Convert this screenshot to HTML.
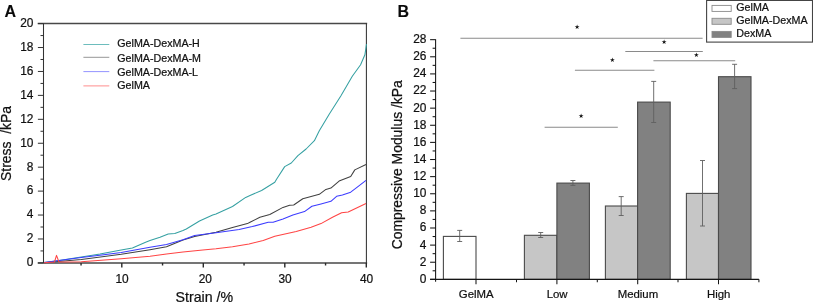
<!DOCTYPE html>
<html><head><meta charset="utf-8"><title>Figure</title>
<style>
html,body{margin:0;padding:0;background:#fff;}
body{width:813px;height:303px;overflow:hidden;}
svg{display:block;}
text{font-family:"Liberation Sans",Arial,sans-serif;fill:#111;stroke:#111;stroke-width:0.22px;}
.t11{font-size:11.9px;}
.tc{font-size:11.4px;}
.t105{font-size:10.7px;}
.t14{font-size:14.2px;}
.t14y{font-size:13.9px;}
.b16{font-size:16px;font-weight:bold;fill:#0a0a0a;stroke-width:0.1px;}
.axh{stroke:#484848;stroke-width:1.5;fill:none;stroke-linecap:square;}
.axv{stroke:#333;stroke-width:1.05;fill:none;}
.tkh{stroke:#333;stroke-width:1.0;fill:none;}
.tkv{stroke:#2a2a2a;stroke-width:1.4;fill:none;}
.bax{stroke:#151515;stroke-width:1.05;fill:none;}
.sig{stroke:#8a8a8a;stroke-width:1.1;fill:none;}
.eb{stroke:#606060;stroke-width:0.9;fill:none;}
.star{font-family:"DejaVu Sans","Liberation Sans",sans-serif;font-size:6.4px;fill:#111;stroke:none;}
</style></head><body>
<svg width="813" height="303" viewBox="0 0 813 303">
<rect x="0" y="0" width="813" height="303" fill="#ffffff"/>

<text class="b16" x="4.6" y="17">A</text>
<path class="axh" d="M38.5,23.6H366.4M38.5,262.9H366.4"/>
<path class="axv" d="M43.5,23.6V262.9M366.4,23.6V262.9"/>
<line class="tkh" x1="37.9" y1="262.90" x2="43.5" y2="262.90"/>
<text class="t11" text-anchor="end" x="33.4" y="266.25">0</text>
<line class="tkh" x1="40.5" y1="250.93" x2="43.5" y2="250.93"/>
<line class="tkh" x1="37.9" y1="238.97" x2="43.5" y2="238.97"/>
<text class="t11" text-anchor="end" x="33.4" y="242.32">2</text>
<line class="tkh" x1="40.5" y1="227.00" x2="43.5" y2="227.00"/>
<line class="tkh" x1="37.9" y1="215.04" x2="43.5" y2="215.04"/>
<text class="t11" text-anchor="end" x="33.4" y="218.39">4</text>
<line class="tkh" x1="40.5" y1="203.07" x2="43.5" y2="203.07"/>
<line class="tkh" x1="37.9" y1="191.11" x2="43.5" y2="191.11"/>
<text class="t11" text-anchor="end" x="33.4" y="194.46">6</text>
<line class="tkh" x1="40.5" y1="179.14" x2="43.5" y2="179.14"/>
<line class="tkh" x1="37.9" y1="167.18" x2="43.5" y2="167.18"/>
<text class="t11" text-anchor="end" x="33.4" y="170.53">8</text>
<line class="tkh" x1="40.5" y1="155.21" x2="43.5" y2="155.21"/>
<line class="tkh" x1="37.9" y1="143.25" x2="43.5" y2="143.25"/>
<text class="t11" text-anchor="end" x="33.4" y="146.60">10</text>
<line class="tkh" x1="40.5" y1="131.28" x2="43.5" y2="131.28"/>
<line class="tkh" x1="37.9" y1="119.32" x2="43.5" y2="119.32"/>
<text class="t11" text-anchor="end" x="33.4" y="122.67">12</text>
<line class="tkh" x1="40.5" y1="107.35" x2="43.5" y2="107.35"/>
<line class="tkh" x1="37.9" y1="95.39" x2="43.5" y2="95.39"/>
<text class="t11" text-anchor="end" x="33.4" y="98.74">14</text>
<line class="tkh" x1="40.5" y1="83.43" x2="43.5" y2="83.43"/>
<line class="tkh" x1="37.9" y1="71.46" x2="43.5" y2="71.46"/>
<text class="t11" text-anchor="end" x="33.4" y="74.81">16</text>
<line class="tkh" x1="40.5" y1="59.49" x2="43.5" y2="59.49"/>
<line class="tkh" x1="37.9" y1="47.53" x2="43.5" y2="47.53"/>
<text class="t11" text-anchor="end" x="33.4" y="50.88">18</text>
<line class="tkh" x1="40.5" y1="35.56" x2="43.5" y2="35.56"/>
<line class="tkh" x1="37.9" y1="23.60" x2="43.5" y2="23.60"/>
<text class="t11" text-anchor="end" x="33.4" y="26.95">20</text>
<line class="tkv" x1="81.05" y1="262.9" x2="81.05" y2="265.5"/>
<line class="tkv" x1="121.80" y1="262.9" x2="121.80" y2="267.5"/>
<text class="t11" text-anchor="middle" x="122.10" y="282.75">10</text>
<line class="tkv" x1="162.55" y1="262.9" x2="162.55" y2="265.5"/>
<line class="tkv" x1="203.30" y1="262.9" x2="203.30" y2="267.5"/>
<text class="t11" text-anchor="middle" x="205.30" y="282.75">20</text>
<line class="tkv" x1="244.05" y1="262.9" x2="244.05" y2="265.5"/>
<line class="tkv" x1="284.80" y1="262.9" x2="284.80" y2="267.5"/>
<text class="t11" text-anchor="middle" x="285.10" y="282.75">30</text>
<line class="tkv" x1="325.55" y1="262.9" x2="325.55" y2="265.5"/>
<line class="tkv" x1="366.30" y1="262.9" x2="366.30" y2="267.5"/>
<text class="t11" text-anchor="middle" x="366.60" y="282.75">40</text>
<text class="t14" text-anchor="middle" x="204.3" y="302.4">Strain /%</text>
<text class="t14y" text-anchor="middle" transform="translate(11,143.5) rotate(-90)" xml:space="preserve">Stress  /kPa</text>
<polyline points="44,262.6 56,261 81.3,257.1 100,254 121.2,250 132.4,248 145.6,242.2 150,240.6 160,237.3 168.2,234 174.8,233.5 183,230.4 186.3,229 199.5,221 212.7,215 216,213.9 232.5,206.5 245.7,197.4 250,195.5 261.6,190.5 274.8,182.3 276.4,179.5 284.7,166.6 291.3,163 297.9,155.6 306.1,149 314.4,140.7 317.7,134 319.3,130.8 329.2,114.2 340.8,96 352.3,76.3 360.6,64.7 364.9,54.8 366.5,44.2" fill="none" stroke="#35a0a2" stroke-width="1.05" stroke-linejoin="round"/>
<polyline points="44,262.7 81.3,259.6 121.2,254.3 150,249.7 166.5,246.7 183,240.1 194.6,236.5 216,232.3 232.5,227.4 247.4,223.6 250,222.3 259.9,217.3 269.8,214.5 283,207.4 289.6,205.3 293.7,205 302.8,198.8 311.1,196.6 319.3,194.3 325.9,189.4 330.9,188.1 339.1,181.1 350.7,176.5 354.8,169.9 366,164.5" fill="none" stroke="#404040" stroke-width="1.05" stroke-linejoin="round"/>
<polyline points="44,262.6 81.3,257.6 121.2,252.6 150,247.2 166.5,244.4 183,239.8 194.6,235.6 216,232.8 239.1,229.5 252.3,226.6 268.2,222.3 273.1,222.3 283,219 292.9,214.9 304.5,211.6 311.9,206.3 321,204 330.9,201.3 336.6,196.3 342.4,195 350.7,192.2 357.3,187.2 366,180.4" fill="none" stroke="#3c3cff" stroke-width="1.05" stroke-linejoin="round"/>
<polyline points="44,262.8 54.5,262 56.5,255.4 59,262 81.3,261.7 121.2,258.7 150,256.3 166.5,254.1 183,252.1 202.8,250 216,248.8 232.5,246.7 249,243.9 263.2,240.4 274.8,236.3 296.2,231.4 311.1,227.2 321,223.6 332.5,217.3 341.6,212.7 348.2,211.9 366,203.6" fill="none" stroke="#f44" stroke-width="1.05" stroke-linejoin="round"/>
<line x1="83.4" y1="44.5" x2="109.3" y2="44.5" stroke="#5cb5b5" stroke-width="0.9"/>
<text class="t105" x="117.3" y="46.6">GelMA-DexMA-H</text>
<line x1="83.4" y1="57.3" x2="109.3" y2="57.3" stroke="#8a8a8a" stroke-width="0.9"/>
<text class="t105" x="117.3" y="61.6">GelMA-DexMA-M</text>
<line x1="83.4" y1="71.6" x2="109.3" y2="71.6" stroke="#8888ff" stroke-width="0.9"/>
<text class="t105" x="117.3" y="75.5">GelMA-DexMA-L</text>
<line x1="83.4" y1="85.9" x2="109.3" y2="85.9" stroke="#ff8080" stroke-width="0.9"/>
<text class="t105" x="117.3" y="89.4">GelMA</text>
<text class="b16" x="397.6" y="16.9">B</text>
<rect x="443.4" y="236.4" width="32.6" height="43.0" fill="#ffffff" stroke="#4a4a4a" stroke-width="1.1"/>
<rect x="524.4" y="235.3" width="32.5" height="44.1" fill="#c6c6c6" stroke="#4a4a4a" stroke-width="1.1"/>
<rect x="556.9" y="183.1" width="32.5" height="96.3" fill="#818181" stroke="#4a4a4a" stroke-width="1.1"/>
<rect x="605.4" y="206.0" width="32.2" height="73.4" fill="#c6c6c6" stroke="#4a4a4a" stroke-width="1.1"/>
<rect x="637.6" y="102.1" width="32.6" height="177.3" fill="#818181" stroke="#4a4a4a" stroke-width="1.1"/>
<rect x="686.4" y="193.4" width="32.1" height="86.0" fill="#c6c6c6" stroke="#4a4a4a" stroke-width="1.1"/>
<rect x="718.5" y="76.7" width="32.5" height="202.7" fill="#818181" stroke="#4a4a4a" stroke-width="1.1"/>
<path class="eb" d="M459.7,230.4V241.5M457.2,230.4H462.2M457.2,241.5H462.2"/>
<path class="eb" d="M540.7,232.5V237.5M538.2,232.5H543.2M538.2,237.5H543.2"/>
<path class="eb" d="M572.9,180.5V185.4M570.4,180.5H575.4M570.4,185.4H575.4"/>
<path class="eb" d="M621.2,196.6V215.5M618.7,196.6H623.7M618.7,215.5H623.7"/>
<path class="eb" d="M653.7,81.4V122.5M651.2,81.4H656.2M651.2,122.5H656.2"/>
<path class="eb" d="M702.5,160.5V226M700.0,160.5H705.0M700.0,226H705.0"/>
<path class="eb" d="M734.6,64.3V88.6M732.1,64.3H737.1M732.1,88.6H737.1"/>
<path class="bax" d="M435.6,39.17V281.65000000000003M430.1,279.35H758.9"/>
<line class="bax" x1="430.1" y1="279.35" x2="435.6" y2="279.35"/>
<text class="t11" text-anchor="end" x="426.4" y="282.75">0</text>
<line class="bax" x1="432.6" y1="270.79" x2="435.6" y2="270.79"/>
<line class="bax" x1="430.1" y1="262.23" x2="435.6" y2="262.23"/>
<text class="t11" text-anchor="end" x="426.4" y="265.63">2</text>
<line class="bax" x1="432.6" y1="253.67" x2="435.6" y2="253.67"/>
<line class="bax" x1="430.1" y1="245.11" x2="435.6" y2="245.11"/>
<text class="t11" text-anchor="end" x="426.4" y="248.51">4</text>
<line class="bax" x1="432.6" y1="236.55" x2="435.6" y2="236.55"/>
<line class="bax" x1="430.1" y1="227.99" x2="435.6" y2="227.99"/>
<text class="t11" text-anchor="end" x="426.4" y="231.39">6</text>
<line class="bax" x1="432.6" y1="219.43" x2="435.6" y2="219.43"/>
<line class="bax" x1="430.1" y1="210.87" x2="435.6" y2="210.87"/>
<text class="t11" text-anchor="end" x="426.4" y="214.27">8</text>
<line class="bax" x1="432.6" y1="202.31" x2="435.6" y2="202.31"/>
<line class="bax" x1="430.1" y1="193.75" x2="435.6" y2="193.75"/>
<text class="t11" text-anchor="end" x="426.4" y="197.15">10</text>
<line class="bax" x1="432.6" y1="185.19" x2="435.6" y2="185.19"/>
<line class="bax" x1="430.1" y1="176.63" x2="435.6" y2="176.63"/>
<text class="t11" text-anchor="end" x="426.4" y="180.03">12</text>
<line class="bax" x1="432.6" y1="168.07" x2="435.6" y2="168.07"/>
<line class="bax" x1="430.1" y1="159.51" x2="435.6" y2="159.51"/>
<text class="t11" text-anchor="end" x="426.4" y="162.91">14</text>
<line class="bax" x1="432.6" y1="150.95" x2="435.6" y2="150.95"/>
<line class="bax" x1="430.1" y1="142.39" x2="435.6" y2="142.39"/>
<text class="t11" text-anchor="end" x="426.4" y="145.79">16</text>
<line class="bax" x1="432.6" y1="133.83" x2="435.6" y2="133.83"/>
<line class="bax" x1="430.1" y1="125.27" x2="435.6" y2="125.27"/>
<text class="t11" text-anchor="end" x="426.4" y="128.67">18</text>
<line class="bax" x1="432.6" y1="116.71" x2="435.6" y2="116.71"/>
<line class="bax" x1="430.1" y1="108.15" x2="435.6" y2="108.15"/>
<text class="t11" text-anchor="end" x="426.4" y="111.55">20</text>
<line class="bax" x1="432.6" y1="99.59" x2="435.6" y2="99.59"/>
<line class="bax" x1="430.1" y1="91.03" x2="435.6" y2="91.03"/>
<text class="t11" text-anchor="end" x="426.4" y="94.43">22</text>
<line class="bax" x1="432.6" y1="82.47" x2="435.6" y2="82.47"/>
<line class="bax" x1="430.1" y1="73.91" x2="435.6" y2="73.91"/>
<text class="t11" text-anchor="end" x="426.4" y="77.31">24</text>
<line class="bax" x1="432.6" y1="65.35" x2="435.6" y2="65.35"/>
<line class="bax" x1="430.1" y1="56.79" x2="435.6" y2="56.79"/>
<text class="t11" text-anchor="end" x="426.4" y="60.19">26</text>
<line class="bax" x1="432.6" y1="48.23" x2="435.6" y2="48.23"/>
<line class="bax" x1="430.1" y1="39.67" x2="435.6" y2="39.67"/>
<text class="t11" text-anchor="end" x="426.4" y="43.07">28</text>
<line class="bax" x1="476.0" y1="279.35" x2="476.0" y2="284.25"/>
<text class="tc" text-anchor="middle" x="476.2" y="298.3">GelMA</text>
<line class="bax" x1="556.9" y1="279.35" x2="556.9" y2="284.25"/>
<text class="tc" text-anchor="middle" x="557.1" y="298.3">Low</text>
<line class="bax" x1="637.7" y1="279.35" x2="637.7" y2="284.25"/>
<text class="tc" text-anchor="middle" x="637.9000000000001" y="298.3">Medium</text>
<line class="bax" x1="718.5" y1="279.35" x2="718.5" y2="284.25"/>
<text class="tc" text-anchor="middle" x="718.7" y="298.3">High</text>
<line class="bax" x1="516.5" y1="279.35" x2="516.5" y2="282.25"/>
<line class="bax" x1="597.3" y1="279.35" x2="597.3" y2="282.25"/>
<line class="bax" x1="678.0" y1="279.35" x2="678.0" y2="282.25"/>
<line class="bax" x1="758.9" y1="279.35" x2="758.9" y2="282.25"/>
<text class="t14y" text-anchor="middle" transform="translate(402.2,164.8) rotate(-90)">Compressive Modulus /kPa</text>
<line class="sig" x1="460.4" y1="38.2" x2="702.6" y2="38.2"/>
<line class="sig" x1="625.3" y1="51.5" x2="702.8" y2="51.5"/>
<line class="sig" x1="653.4" y1="60.7" x2="735.2" y2="60.7"/>
<line class="sig" x1="574.9" y1="70.2" x2="654.4" y2="70.2"/>
<line class="sig" x1="544.6" y1="127.2" x2="617.8" y2="127.2"/>
<text class="star" text-anchor="middle" x="577.1" y="28.900000000000002">★</text>
<text class="star" text-anchor="middle" x="664.2" y="44.3">★</text>
<text class="star" text-anchor="middle" x="696.4000000000001" y="56.9">★</text>
<text class="star" text-anchor="middle" x="612.3000000000001" y="61.699999999999996">★</text>
<text class="star" text-anchor="middle" x="581.1" y="117.5">★</text>
<rect x="706.6" y="0.45" width="105.9" height="41.65" fill="#fff" stroke="#444" stroke-width="1.1"/>
<rect x="712" y="5.4" width="19.2" height="6" fill="#fff" stroke="#8a8a8a" stroke-width="0.9"/>
<text class="t105" x="736.3" y="10.5">GelMA</text>
<rect x="712" y="18.3" width="19.2" height="6" fill="#c6c6c6" stroke="#8a8a8a" stroke-width="0.9"/>
<text class="t105" x="736.3" y="23.9">GelMA-DexMA</text>
<rect x="712" y="31.4" width="19.2" height="6" fill="#818181" stroke="#8a8a8a" stroke-width="0.9"/>
<text class="t105" x="736.3" y="36.9">DexMA</text>
</svg></body></html>
